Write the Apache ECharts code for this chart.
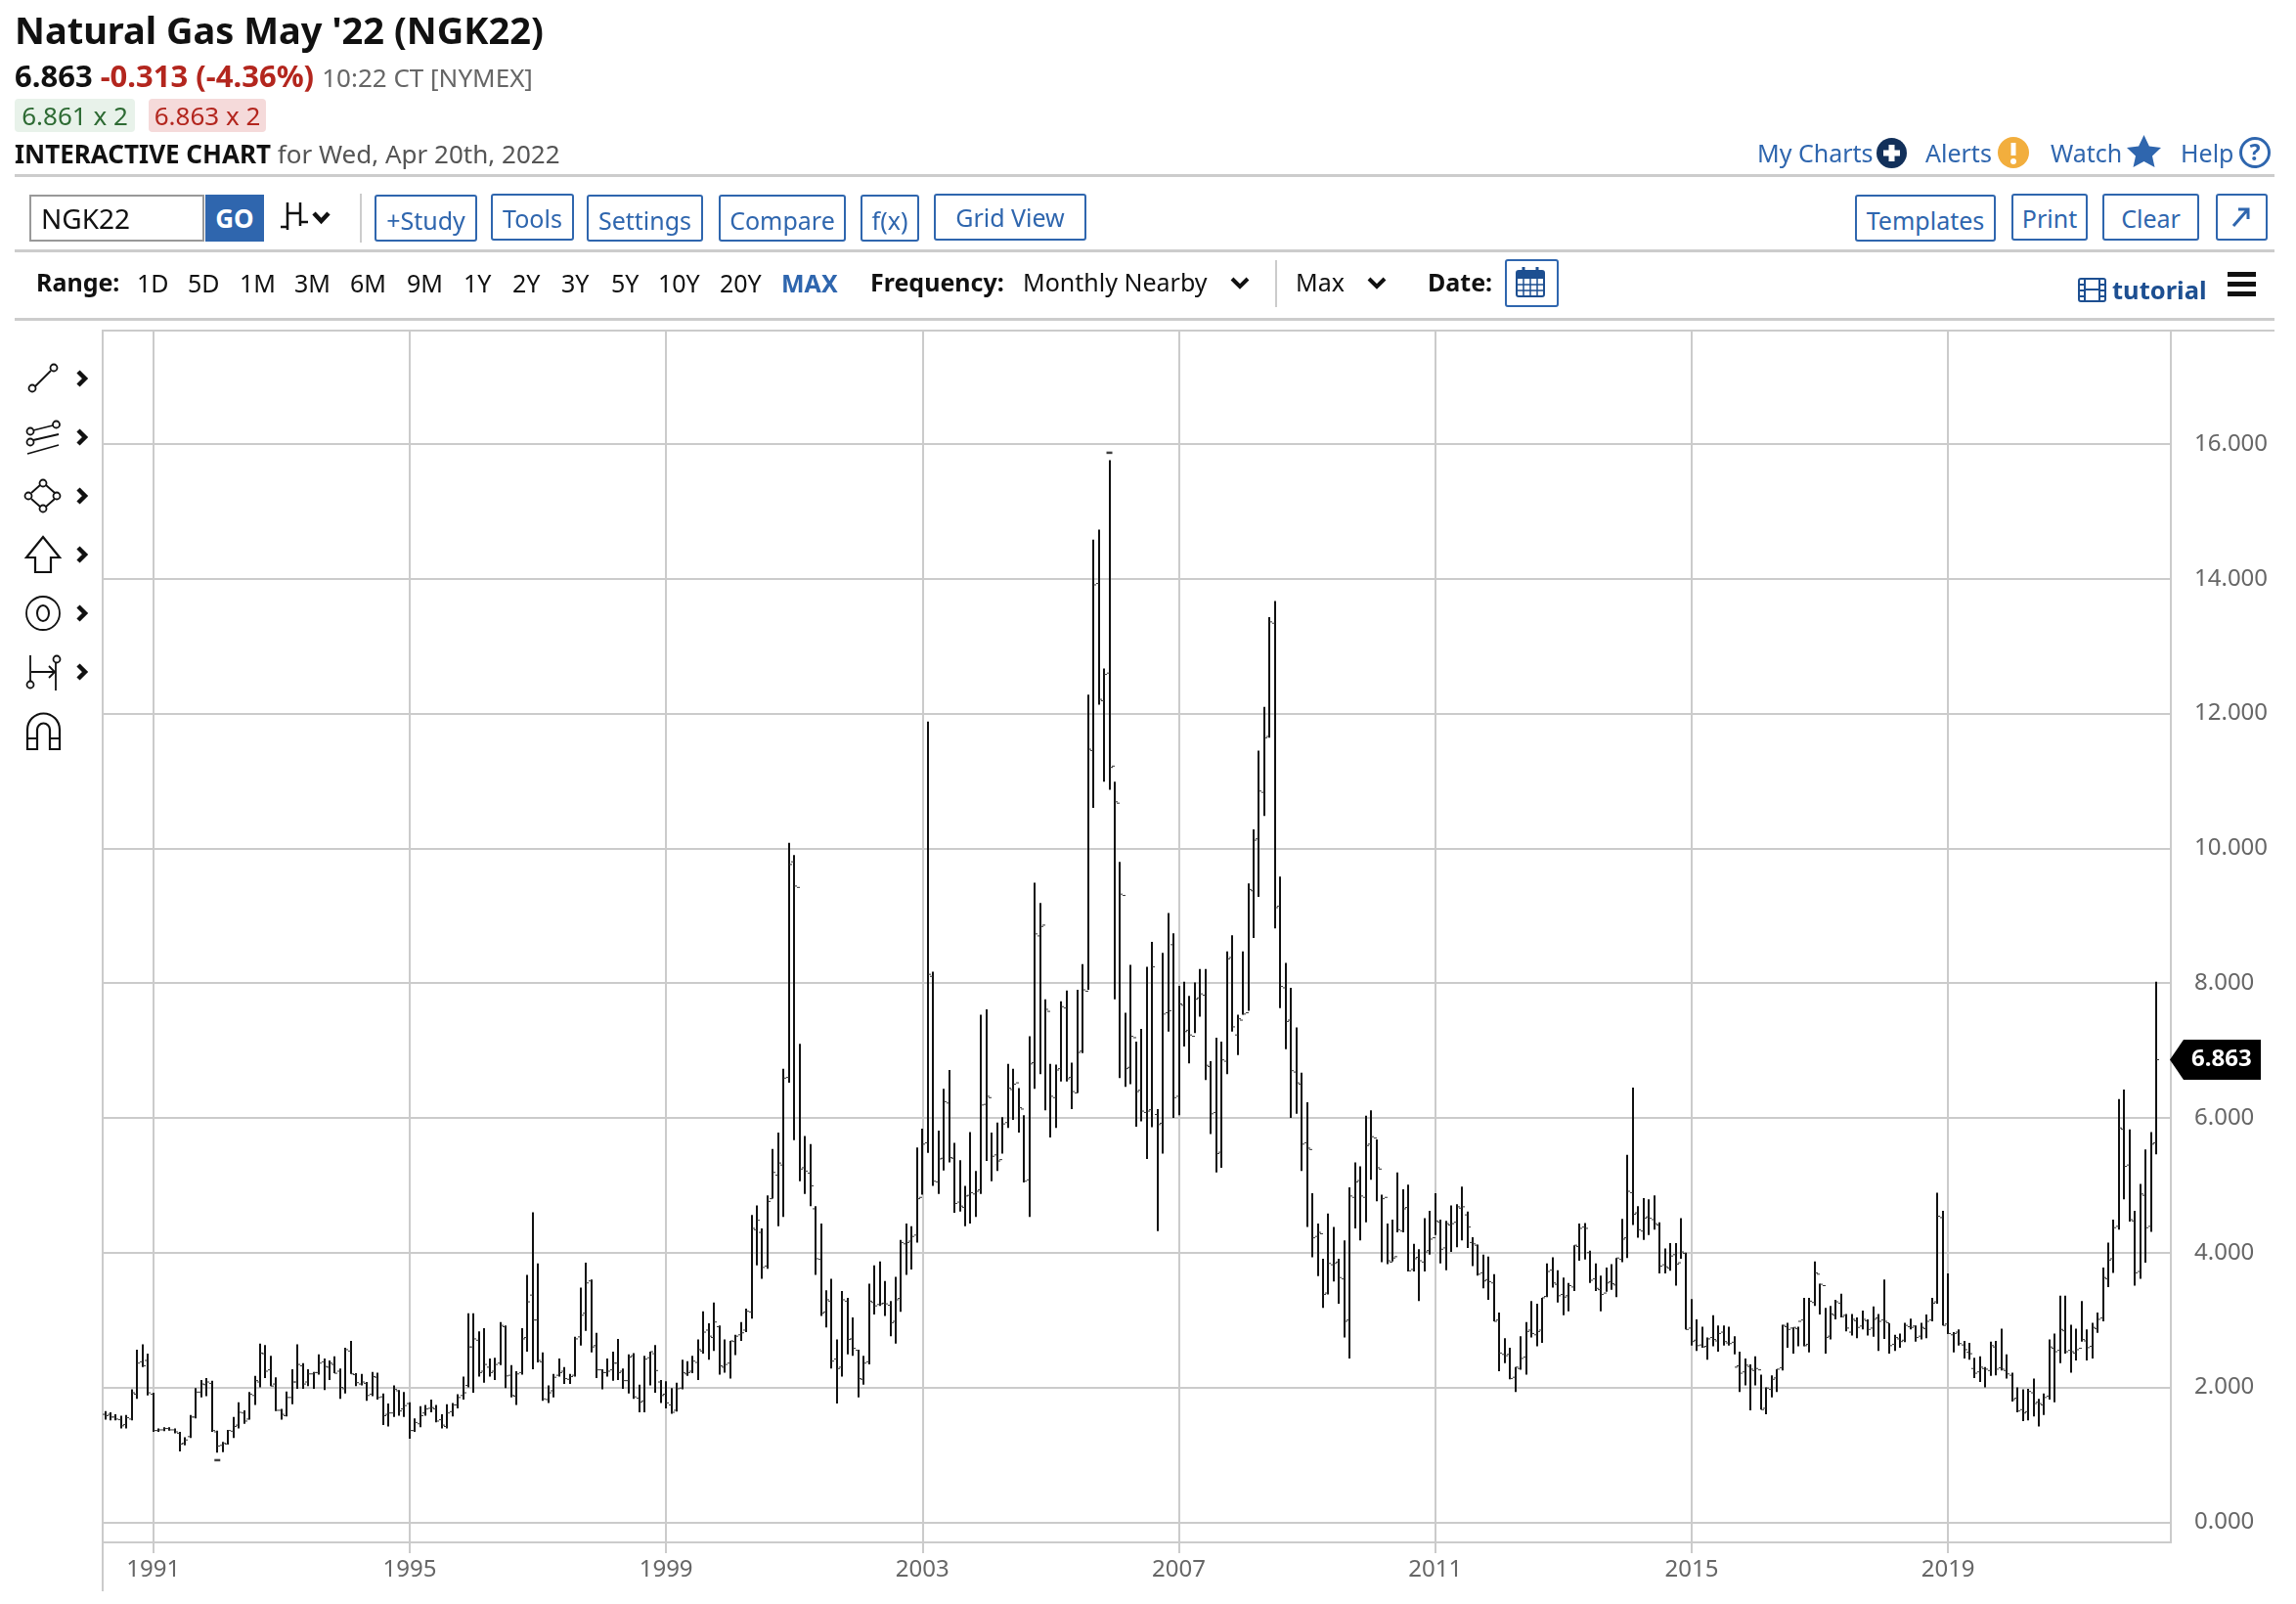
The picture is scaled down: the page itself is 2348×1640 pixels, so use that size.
<!DOCTYPE html>
<html>
<head>
<meta charset="UTF-8">
<title>Natural Gas May '22 (NGK22)</title>
<style>
    html, body { margin: 0; padding: 0; background: #fff; font-family: "Noto Sans", sans-serif; }
    #page { position: relative; width: 2348px; height: 1640px; overflow: hidden; }
    #chart { position: absolute; left: 0; top: 0; width: 2348px; height: 1640px; }
    .t { position: absolute; white-space: nowrap; font-size: 26px; line-height: 36px; height: 36px; color: #111; }
    .s { font-size: 25px; }
    .b { font-weight: 700; }
    .link { color: #2f66ae; }
    .rule { position: absolute; left: 15px; width: 2311px; height: 3px; background: #ccc; }
    .btn { position: absolute; top: 199px; height: 44px; line-height: 48px; border: 2px solid #2f66ae; border-radius: 3px;
           color: #2f66ae; font-size: 25px; text-align: center; background: #fff; }
    .pill { position: absolute; top: 101px; height: 34px; line-height: 34px; border-radius: 4px; font-size: 26px; text-align: center; }
    svg { position: absolute; overflow: visible; }
</style>
</head>
<body>
<div id="page">
    <div id="chart"></div>

    <!-- header -->
    <div class="t b" style="left:15px;top:8px;font-size:38px;line-height:44px;height:44px">Natural Gas May '22 (NGK22)</div>
    <div class="t b" style="left:15px;top:57px;font-size:31px;line-height:40px;height:40px">6.863 <span style="color:#b3261e">-0.313 (-4.36%)</span> <span style="font-weight:400;font-size:26px;color:#666">10:22 CT [NYMEX]</span></div>
    <div class="pill" style="left:15px;width:123px;background:#e8f2ea;color:#2e6b34">6.861 x 2</div>
    <div class="pill" style="left:152px;width:120px;background:#f5dada;color:#b3261e">6.863 x 2</div>
    <div class="t" style="left:15px;top:139px;color:#555"><span class="b" style="color:#111">INTERACTIVE CHART</span> for Wed, Apr 20th, 2022</div>

    <div class="t s link" style="left:1797px;top:138px">My Charts</div>
    <svg style="left:1919px;top:141px" width="31" height="31" viewBox="0 0 31 31"><circle cx="15.5" cy="15.5" r="15.5" fill="#12305a"/><path d="M15.5 7v17M7 15.5h17" stroke="#fff" stroke-width="6"/></svg>
    <div class="t s link" style="left:1969px;top:138px">Alerts</div>
    <svg style="left:2043px;top:140px" width="32" height="32" viewBox="0 0 32 32"><circle cx="16" cy="16" r="16" fill="#f2ae3d"/><path d="M16 6v13" stroke="#fff" stroke-width="5"/><circle cx="16" cy="25" r="3" fill="#fff"/></svg>
    <div class="t s link" style="left:2097px;top:138px">Watch</div>
    <svg style="left:2175px;top:138px" width="35" height="33" viewBox="0 0 35 33"><path d="M17.5 0l5.4 11.6 12.1 1.4-9 8.4 2.5 11.6-11-6-11 6 2.5-11.6-9-8.4 12.1-1.4z" fill="#2f66ae"/></svg>
    <div class="t s link" style="left:2230px;top:138px">Help</div>
    <svg style="left:2290px;top:140px" width="32" height="32" viewBox="0 0 32 32"><circle cx="16" cy="16" r="14.5" fill="#fff" stroke="#2f66ae" stroke-width="3"/><text x="16" y="24" font-size="23" font-weight="700" text-anchor="middle" fill="#2f66ae" font-family="Noto Sans">?</text></svg>
    <div class="rule" style="top:178px"></div>

    <!-- toolbar -->
    <div style="position:absolute;left:30px;top:199px;height:44px;border:2px solid #999;line-height:44px;font-size:28px;padding-left:10px;width:165px;color:#111">NGK22</div>
    <div class="b" style="position:absolute;left:210px;top:199px;width:60px;height:48px;line-height:48px;background:#2f66ae;color:#fff;text-align:center;font-size:26px">GO</div>
    <svg style="left:286px;top:205px" width="56" height="30" viewBox="0 0 56 30" fill="none" stroke="#111" stroke-width="2.5"><path d="M8 2v28M1 27h7M8 13h6M21 2v24M14 13h7M21 22h8"/><path d="M35 13l7.500 8 7.500-8" stroke-width="4.5"/></svg>
    <div style="position:absolute;left:368px;top:198px;width:2px;height:50px;background:#ccc"></div>
    <div class="btn" style="left:383px;width:101px">+Study</div>
    <div class="btn" style="left:502px;width:81px;top:198px;line-height:46px">Tools</div>
    <div class="btn" style="left:600px;width:115px">Settings</div>
    <div class="btn" style="left:735px;width:126px">Compare</div>
    <div class="btn" style="left:880px;width:56px">f(x)</div>
    <div class="btn" style="left:955px;width:152px;top:198px;line-height:44px">Grid View</div>
    <div class="btn" style="left:1897px;width:140px">Templates</div>
    <div class="btn" style="left:2057px;width:74px;top:198px;line-height:46px">Print</div>
    <div class="btn" style="left:2150px;width:95px;top:198px;line-height:46px">Clear</div>
    <div class="btn" style="left:2266px;width:49px;top:198px"></div>
    <svg style="left:2282px;top:212px" width="20" height="20" viewBox="0 0 20 20"><path d="M2 19L16 3M7 2h10v10" fill="none" stroke="#2f66ae" stroke-width="3"/></svg>
    <div class="rule" style="top:255px"></div>

    <!-- range row -->
    <div class="t s b" style="left:37px;top:270px">Range:</div>
    <div class="t s" style="left:140px;top:271px">1D</div>
    <div class="t s" style="left:192px;top:271px">5D</div>
    <div class="t s" style="left:245px;top:271px">1M</div>
    <div class="t s" style="left:301px;top:271px">3M</div>
    <div class="t s" style="left:358px;top:271px">6M</div>
    <div class="t s" style="left:416px;top:271px">9M</div>
    <div class="t s" style="left:474px;top:271px">1Y</div>
    <div class="t s" style="left:524px;top:271px">2Y</div>
    <div class="t s" style="left:574px;top:271px">3Y</div>
    <div class="t s" style="left:625px;top:271px">5Y</div>
    <div class="t s" style="left:673px;top:271px">10Y</div>
    <div class="t s" style="left:736px;top:271px">20Y</div>
    <div class="t s b link" style="left:799px;top:271px">MAX</div>
    <div class="t s b" style="left:890px;top:270px">Frequency:</div>
    <div class="t s" style="left:1046px;top:270px">Monthly Nearby</div>
    <svg style="left:1259px;top:284px" width="18" height="12" viewBox="0 0 18 12"><path d="M1 1l8 8 8-8" fill="none" stroke="#111" stroke-width="4"/></svg>
    <div style="position:absolute;left:1304px;top:266px;width:2px;height:48px;background:#ccc"></div>
    <div class="t s" style="left:1325px;top:270px">Max</div>
    <svg style="left:1399px;top:284px" width="18" height="12" viewBox="0 0 18 12"><path d="M1 1l8 8 8-8" fill="none" stroke="#111" stroke-width="4"/></svg>
    <div class="t s b" style="left:1460px;top:270px">Date:</div>
    <div class="btn" style="left:1539px;top:265px;width:51px;height:45px"></div>
    <svg style="left:1550px;top:272px" width="30" height="32" viewBox="0 0 30 32"><rect x="1" y="5" width="28" height="26" rx="2" fill="#fff" stroke="#1d4f91" stroke-width="2"/><rect x="1" y="5" width="28" height="8" fill="#1d4f91"/><path d="M8 1v8M22 1v8" stroke="#1d4f91" stroke-width="3"/><path d="M1 19h28M1 25h28M8 13v18M15 13v18M22 13v18" stroke="#1d4f91" stroke-width="1.5"/></svg>
    <svg style="left:2125px;top:284px" width="29" height="25" viewBox="0 0 29 25" fill="none" stroke="#1d4f91" stroke-width="2"><rect x="1" y="1" width="27" height="23" rx="2"/><path d="M7 1v23M22 1v23M7 12h15M1 7h6M1 13h6M1 19h6M22 7h6M22 13h6M22 19h6"/></svg>
    <div class="t b" style="left:2160px;top:278px;color:#1d4f91;font-size:25.5px">tutorial</div>
    <div style="position:absolute;left:2278px;top:278px;width:29px;height:5px;background:#111"></div>
    <div style="position:absolute;left:2278px;top:288px;width:29px;height:5px;background:#111"></div>
    <div style="position:absolute;left:2278px;top:298px;width:29px;height:5px;background:#111"></div>
    <div class="rule" style="top:325px"></div>

    <!-- drawing tools -->
    <svg style="left:0;top:340px" width="100" height="450" viewBox="0 0 100 450" fill="none" stroke="#111" stroke-width="1.8">
        <circle cx="33" cy="57" r="3.5"/><circle cx="55" cy="36" r="3.5"/><path d="M36 55l16-16"/>
        <circle cx="31" cy="101" r="3.5"/><circle cx="57.500" cy="94" r="3.500"/><circle cx="31" cy="112" r="3.5"/>
        <path d="M34 100l20-5M34 110l26-6M28 124l32-9"/>
        <circle cx="44" cy="154" r="3.5"/><circle cx="44" cy="180" r="3.5"/><circle cx="29" cy="167" r="3.5"/><circle cx="58" cy="167" r="3.5"/>
        <path d="M32 164l9-8M47 156l9 8M32 170l9 8M47 178l9-8"/>
        <path d="M44 209l17 21h-9v15h-16v-15h-9z" stroke-width="2.2"/>
        <circle cx="44" cy="287" r="17"/><ellipse cx="44" cy="287" rx="6" ry="8" stroke-width="2"/>
        <path d="M31 330v32M57 336v30M32 347h24M50 341l6 6-6 6"/><circle cx="31" cy="360" r="3.500" fill="#fff"/><circle cx="58" cy="334" r="3.500" fill="#fff"/>
        <path d="M28 426v-20a16 16 0 0 1 33 0v20h-10v-20a6 6 0 0 0-13 0v20zM28 415h10M51 415h10" stroke-width="2.2"/>
    </svg>
    <svg style="left:79px;top:379px" width="12" height="300" viewBox="0 0 12 300" fill="none" stroke="#111" stroke-width="4.500">
        <path d="M1 1l7 7-7 7M1 61l7 7-7 7M1 121l7 7-7 7M1 181l7 7-7 7M1 241l7 7-7 7M1 301l7 7-7 7"/>
    </svg>
</div>

<script src="https://cdn.jsdelivr.net/npm/echarts@6/dist/echarts.min.js"></script>
<script>
// monthly nearby bars, Apr 1990 to Apr 2022, one row per calendar year
var startYear = 1990.25;
var opens = [
    1.60,1.60,1.56,1.52,1.45,1.53,1.90,2.38,2.40,
    1.90,1.36,1.37,1.39,1.37,1.32,1.17,1.27,1.56,1.93,2.04,2.06,
    1.34,1.14,1.16,1.35,1.44,1.62,1.53,1.88,2.08,2.50,2.26,2.05,
    1.66,1.58,1.85,2.08,2.32,2.08,2.20,2.22,2.38,2.30,2.34,2.24,
    1.98,2.54,2.19,2.05,2.06,1.90,2.15,1.86,1.60,1.62,1.95,1.68,
    1.76,1.36,1.46,1.62,1.69,1.68,1.52,1.42,1.64,1.74,1.88,2.03,
    2.60,2.70,2.24,2.30,2.24,2.36,2.90,2.18,1.87,2.22,2.74,3.37,
    3.00,2.38,1.82,1.95,2.18,2.24,2.12,2.18,2.75,3.10,3.58,2.62,
    2.26,2.22,2.26,2.36,2.24,2.10,2.47,1.84,1.80,2.44,2.50,2.08,
    1.90,1.74,1.66,1.99,2.20,2.24,2.37,2.54,2.85,2.74,2.90,2.30,
    2.36,2.68,2.78,2.85,3.12,4.34,4.30,3.80,4.80,5.15,5.30,6.60,
    9.80,9.42,5.26,5.18,4.65,3.90,3.12,3.28,2.42,2.30,3.28,2.72,
    2.55,2.12,2.38,3.26,3.23,3.25,3.22,2.98,3.32,4.13,4.17,4.26,
    4.82,5.63,8.10,5.05,5.40,6.22,5.40,4.75,4.67,4.85,4.87,4.93,
    6.20,6.30,5.45,5.38,5.93,6.42,6.52,6.13,5.08,6.82,8.70,8.86,
    7.58,6.30,6.73,7.63,6.60,6.37,6.99,7.88,11.45,13.93,12.19,12.60,
    11.22,10.67,9.30,6.75,7.19,6.41,6.08,6.12,6.05,5.92,7.56,8.57,
    6.32,7.67,7.30,7.21,7.78,7.82,6.76,6.08,5.49,6.84,8.38,7.23,
    7.45,7.56,9.37,10.14,10.83,11.66,13.34,9.14,7.93,7.45,6.68,6.50,
    5.63,5.53,4.24,4.28,3.40,3.82,3.86,3.61,3.00,4.82,5.07,4.82,
    5.61,5.70,5.24,4.82,3.86,3.94,4.32,4.67,3.75,3.93,3.86,4.03,
    4.22,4.45,4.07,4.41,4.45,4.66,4.56,4.15,4.11,3.70,3.60,3.55,
    3.00,2.49,2.49,2.15,2.28,2.45,2.85,2.78,2.85,3.35,3.74,3.53,
    3.38,3.36,3.49,4.09,4.38,4.00,3.61,3.45,3.40,3.57,3.52,3.90,
    4.22,4.89,4.59,4.32,4.53,4.49,4.41,3.82,3.77,3.97,3.85,3.99,
    2.88,2.70,2.63,2.61,2.74,2.69,2.82,2.66,2.67,2.32,2.23,2.31,
    2.25,2.26,1.69,1.97,2.14,2.29,2.90,2.88,2.87,3.00,2.64,3.26,
    3.68,3.51,2.76,3.07,3.25,3.07,2.82,2.99,2.91,2.99,2.88,3.03,
    3.00,2.96,2.64,2.72,2.70,2.90,2.91,2.76,2.87,3.00,3.27,4.52,
    2.94,2.78,2.82,2.63,2.52,2.28,2.23,2.28,2.25,2.60,2.29,2.25,
    2.18,1.84,1.67,1.64,1.92,1.78,1.74,1.87,2.58,2.55,2.84,2.55,
    2.51,2.58,2.69,2.61,2.87,3.03,3.61,3.91,4.39,5.83,5.30,4.47,
    3.72,4.85,4.39,5.63
];
var highs = [
    1.65,1.63,1.60,1.58,1.59,1.97,2.56,2.64,2.50,
    1.92,1.39,1.41,1.41,1.39,1.34,1.26,1.59,1.99,2.11,2.14,2.10,
    1.36,1.19,1.37,1.56,1.78,1.66,1.93,2.17,2.65,2.63,2.47,2.15,
    1.68,1.94,2.27,2.64,2.36,2.27,2.23,2.49,2.43,2.40,2.46,2.28,
    2.59,2.69,2.21,2.20,2.08,2.23,2.22,1.91,1.76,2.03,1.96,1.93,
    1.78,1.54,1.72,1.74,1.82,1.74,1.60,1.75,1.77,1.90,2.16,3.10,
    3.10,2.83,2.88,2.43,2.44,2.97,2.92,2.33,2.24,2.88,3.67,4.60,
    3.84,2.52,2.03,2.20,2.43,2.30,2.20,2.75,3.48,3.85,3.60,2.81,
    2.27,2.43,2.53,2.72,2.28,2.49,2.51,2.04,2.47,2.53,2.63,2.11,
    2.09,1.99,2.07,2.41,2.39,2.47,2.71,3.13,2.95,3.26,2.92,2.71,
    2.69,2.78,2.97,3.17,4.56,4.70,4.36,4.85,5.54,5.78,6.73,10.08,
    9.90,7.10,5.73,5.61,4.69,4.43,3.44,3.61,2.71,3.43,3.33,3.04,
    2.56,2.47,3.54,3.81,3.87,3.58,3.28,3.64,4.19,4.43,4.39,5.56,
    5.84,11.88,8.17,5.81,6.43,6.71,5.63,5.37,4.99,5.79,5.21,7.53,
    7.61,5.78,5.93,6.01,6.80,6.73,6.44,6.04,7.21,9.49,9.19,7.76,
    6.80,6.79,7.73,7.89,6.82,7.90,8.28,12.28,14.58,14.73,12.67,15.76,
    10.99,9.80,7.56,8.27,7.13,7.32,8.24,8.61,6.13,8.45,9.04,8.74,
    7.96,8.02,7.81,8.01,8.21,8.21,6.84,7.19,7.13,8.47,8.71,7.53,
    8.47,9.48,10.28,11.45,12.10,13.43,13.67,9.58,8.30,7.93,7.34,6.67,
    6.23,4.88,4.43,3.91,4.58,4.38,3.91,4.18,4.97,5.34,5.28,6.03,
    6.11,5.68,4.86,4.43,4.49,5.19,4.94,5.01,4.13,4.05,4.51,4.62,
    4.88,4.49,4.47,4.70,4.72,4.98,4.61,4.23,4.12,3.97,3.94,3.68,
    3.11,2.73,2.59,2.30,2.76,2.97,3.28,3.24,3.33,3.84,3.93,3.74,
    3.63,3.55,4.11,4.43,4.44,4.03,3.84,3.66,3.78,3.83,3.92,4.50,
    5.45,6.45,4.69,4.81,4.79,4.85,4.45,4.06,4.14,4.14,4.51,4.00,
    3.31,3.01,2.90,2.74,3.07,2.92,2.92,2.90,2.76,2.53,2.43,2.34,
    2.46,2.19,2.00,2.18,2.27,2.93,2.96,2.89,2.90,3.33,3.33,3.87,
    3.54,3.18,3.21,3.30,3.39,3.09,3.09,3.04,3.14,3.01,3.20,3.09,
    3.60,2.95,2.78,2.80,2.96,3.02,2.92,2.96,3.08,3.33,4.89,4.62,
    3.69,2.82,2.86,2.69,2.66,2.44,2.46,2.30,2.68,2.69,2.87,2.49,
    2.22,2.00,1.97,1.98,2.13,1.83,1.91,2.71,2.80,3.36,3.36,2.93,
    2.87,3.28,2.86,2.96,3.11,3.78,4.15,4.49,6.28,6.42,5.83,4.62,
    5.02,5.53,5.79,8.02
];
var lows = [
    1.52,1.51,1.51,1.39,1.39,1.51,1.83,2.30,1.88,
    1.34,1.34,1.35,1.36,1.32,1.05,1.14,1.25,1.54,1.85,1.87,1.34,
    1.03,1.04,1.15,1.25,1.39,1.46,1.52,1.74,2.00,2.14,2.02,1.65,
    1.52,1.57,1.75,1.98,1.98,2.02,1.98,2.19,1.96,2.11,2.21,1.83,
    1.91,2.20,2.02,2.03,1.80,1.87,1.82,1.44,1.42,1.56,1.58,1.56,
    1.24,1.34,1.41,1.58,1.63,1.48,1.39,1.39,1.57,1.69,1.82,2.00,
    1.92,2.16,2.07,2.16,2.11,2.33,1.99,1.85,1.74,2.19,2.53,2.27,
    2.37,1.80,1.77,1.85,2.16,2.05,2.05,2.16,2.62,2.84,2.52,2.14,
    1.97,2.16,2.10,2.11,1.98,1.91,1.83,1.63,1.63,2.03,1.92,1.77,
    1.69,1.61,1.64,1.97,2.17,2.21,2.11,2.50,2.41,2.54,2.19,2.22,
    2.13,2.48,2.69,2.82,3.02,3.81,3.61,3.76,4.80,4.39,4.53,6.52,
    5.67,5.06,4.87,4.69,3.67,3.06,2.89,2.28,1.76,2.16,2.49,2.47,
    1.85,2.04,2.34,3.08,3.21,3.06,2.76,2.65,3.12,3.67,3.75,4.15,
    4.86,5.48,4.99,4.87,5.22,5.34,4.59,4.61,4.39,4.43,4.53,4.87,
    5.36,5.06,5.21,5.47,5.85,5.97,5.78,5.04,4.53,6.43,6.65,6.11,
    5.71,5.85,6.54,6.54,6.13,6.37,6.96,7.90,10.60,12.13,10.99,10.87,
    7.76,6.59,6.46,6.50,5.87,5.95,5.39,5.86,4.32,5.47,7.28,6.00,
    6.04,7.06,6.81,7.26,7.50,6.56,5.76,5.19,5.26,6.65,7.28,6.93,
    7.53,7.59,8.67,9.28,10.48,11.64,8.81,7.63,7.02,6.00,6.06,5.21,
    4.38,3.93,3.65,3.18,3.38,3.57,3.24,2.74,2.43,4.36,4.18,4.45,
    5.08,4.76,3.86,3.83,3.87,4.30,4.30,3.72,3.72,3.28,3.72,3.97,
    4.26,3.84,3.74,4.01,4.08,4.18,4.07,3.80,3.66,3.47,3.30,2.98,
    2.24,2.36,2.12,1.93,2.26,2.19,2.74,2.61,2.66,3.34,3.48,3.26,
    3.07,3.13,3.43,3.88,3.90,3.55,3.43,3.13,3.42,3.45,3.34,3.86,
    3.92,4.41,4.22,4.19,4.26,4.34,3.69,3.69,3.73,3.51,3.91,2.86,
    2.62,2.54,2.59,2.41,2.61,2.53,2.62,2.62,2.49,1.93,2.03,1.66,
    2.03,1.67,1.60,1.85,1.93,2.25,2.59,2.50,2.61,2.61,2.52,3.21,
    3.08,2.50,2.71,3.01,3.04,2.83,2.77,2.73,2.86,2.77,2.75,2.54,
    2.72,2.50,2.54,2.59,2.67,2.86,2.68,2.71,2.73,2.98,3.24,2.92,
    2.79,2.52,2.62,2.43,2.41,2.14,2.08,2.00,2.17,2.18,2.25,2.13,
    1.79,1.63,1.50,1.51,1.57,1.42,1.59,1.82,1.78,2.36,2.50,2.22,
    2.40,2.68,2.40,2.43,2.81,2.98,3.49,3.70,4.34,4.79,4.46,3.51,
    3.61,3.85,4.31,5.46
];
var closes = [
    1.58,1.56,1.53,1.43,1.55,1.92,2.36,2.32,1.92,
    1.36,1.37,1.39,1.37,1.34,1.16,1.22,1.56,1.93,2.05,2.08,1.36,
    1.13,1.17,1.36,1.42,1.63,1.50,1.90,2.10,2.51,2.24,2.02,1.66,
    1.60,1.85,2.08,2.34,2.05,2.20,2.22,2.36,2.31,2.36,2.21,2.00,
    2.56,2.20,2.07,2.08,1.88,2.16,1.85,1.58,1.62,1.97,1.65,1.73,
    1.36,1.48,1.58,1.68,1.70,1.50,1.44,1.62,1.74,1.85,1.92,2.60,
    2.72,2.22,2.34,2.22,2.34,2.92,2.17,1.88,2.20,2.72,3.27,3.00,
    2.40,1.83,1.92,2.15,2.22,2.13,2.16,2.72,3.07,3.55,2.60,2.26,
    2.22,2.24,2.36,2.22,2.10,2.45,1.86,1.78,2.42,2.53,2.25,1.88,
    1.77,1.63,1.98,2.22,2.22,2.39,2.56,2.82,2.76,2.97,2.32,2.34,
    2.69,2.76,2.81,3.13,4.36,4.48,3.78,4.76,5.19,5.33,6.59,9.76,
    9.44,5.24,5.21,4.99,3.91,3.10,3.30,2.39,2.28,3.30,2.71,2.58,
    2.13,2.36,3.28,3.21,3.24,3.24,2.96,3.30,4.15,4.15,4.24,4.80,
    5.61,8.13,5.06,5.39,6.24,5.41,4.73,4.69,4.84,4.89,4.91,6.19,
    6.32,5.43,5.36,5.91,6.44,6.50,6.15,5.06,6.80,8.73,8.84,7.61,
    6.32,6.71,7.65,6.58,6.39,6.97,7.90,11.47,13.91,12.21,12.58,11.20,
    10.69,9.32,6.73,7.21,6.39,6.10,6.10,8.24,5.90,7.54,7.59,6.30,
    7.69,7.28,7.23,7.76,7.84,6.78,6.06,5.47,6.86,8.36,7.35,7.47,
    7.54,9.39,10.12,10.85,11.64,13.36,9.12,7.95,7.43,6.70,6.52,5.61,
    5.55,4.22,4.30,3.38,3.84,3.84,3.63,2.98,4.84,5.05,4.84,5.59,
    5.72,5.26,4.80,3.88,3.92,4.34,4.65,3.73,3.91,3.88,4.01,4.20,
    4.47,4.05,4.43,4.43,4.68,4.68,4.38,4.13,3.68,3.58,3.57,2.98,
    2.51,2.47,2.13,2.30,2.43,2.83,2.80,2.83,3.33,3.72,3.55,3.36,
    3.34,3.51,4.11,4.36,4.36,3.59,3.47,3.38,3.55,3.54,3.92,4.20,
    4.91,4.57,4.34,4.51,4.51,4.43,3.80,3.79,3.95,3.83,4.01,2.86,
    2.68,2.62,2.60,2.72,2.71,2.80,2.68,2.65,2.30,2.21,2.33,2.27,
    2.28,1.67,1.99,2.12,2.27,2.92,2.86,2.89,2.98,2.62,3.28,3.70,
    3.53,2.74,3.09,3.27,3.05,2.88,3.01,2.89,3.01,2.86,3.01,2.98,
    2.98,2.62,2.74,2.68,2.92,2.89,2.74,2.89,2.98,3.25,4.54,2.92,
    2.80,2.80,2.65,2.56,2.50,2.21,2.30,2.27,2.62,2.27,2.27,2.20,
    1.82,1.65,1.62,1.94,1.76,1.76,1.85,2.60,2.53,2.86,2.53,2.53,
    2.56,2.71,2.59,2.89,3.01,3.63,3.89,4.37,5.85,5.28,4.49,3.70,
    4.87,4.37,5.61,6.863
];
// stray prints that sit outside their bar in the source chart
var strayYears = [1992.0, 2005.9167];
var strayPrices = [0.92, 15.87];

var lastPrice = 6.863;
var yearTicks = [1991, 1995, 1999, 2003, 2007, 2011, 2015, 2019];
var priceTicks = [0, 2, 4, 6, 8, 10, 12, 14, 16];

var bars = [];
for (var i = 0; i < closes.length; i++) {
    bars.push([startYear + i / 12, opens[i], highs[i], lows[i], closes[i]]);
}
var strays = strayYears.map(function (y, i) { return [y, strayPrices[i]]; });

var gridColor = '#cbcbcb';
var xMin = 1990.211, xMax = 2022.476;

function renderBar(params, api) {
    var x = api.value(0);
    var open = api.coord([x, api.value(1)]);
    var high = api.coord([x, api.value(2)]);
    var low = api.coord([x, api.value(3)]);
    var close = api.coord([x, api.value(4)]);
    var px = Math.round(high[0]);
    var style = { stroke: '#111', lineWidth: 2, fill: null };
    var tick = { stroke: '#333', lineWidth: 1, fill: null };
    return {
        type: 'group',
        children: [
            { type: 'line', shape: { x1: px, y1: high[1], x2: px, y2: low[1] }, style: style },
            { type: 'line', shape: { x1: px - 3, y1: open[1], x2: px, y2: open[1] }, style: tick },
            { type: 'line', shape: { x1: px, y1: close[1], x2: px + 3, y2: close[1] }, style: tick }
        ]
    };
}

function renderTag(params, api) {
    var p = api.coord([api.value(0), api.value(1)]);
    var x = p[0], y = p[1];
    return {
        type: 'group',
        children: [
            { type: 'polygon', shape: { points: [[x - 1, y], [x + 13, y - 20.5], [x + 92, y - 20.5], [x + 92, y + 20.5], [x + 13, y + 20.5]] }, style: { fill: '#000' } },
            { type: 'text', x: x + 21, y: y, style: { text: lastPrice.toFixed(3), fill: '#fff', font: '700 24px "Noto Sans"', verticalAlign: 'middle', textAlign: 'left' } }
        ]
    };
}

var chart = echarts.init(document.getElementById('chart'), null, { renderer: 'canvas' });
chart.setOption({
    animation: false,
    textStyle: { fontFamily: 'Noto Sans' },
    grid: { left: 105, right: 128, top: 338, bottom: 63 },
    xAxis: {
        type: 'value', min: xMin, max: xMax,
        axisLine: { show: true, onZero: false, lineStyle: { color: gridColor, width: 2 } },
        axisTick: { show: true, length: 11, customValues: yearTicks, lineStyle: { color: gridColor, width: 2 } },
        axisLabel: { customValues: yearTicks, formatter: function (v) { return String(v); }, color: '#666', fontSize: 24, margin: 16, fontFamily: 'Noto Sans' },
        splitLine: { show: true, customValues: yearTicks, lineStyle: { color: gridColor, width: 2 } }
    },
    yAxis: {
        type: 'value', position: 'right', min: -0.3, max: 17.683,
        axisLine: { show: true, onZero: false, lineStyle: { color: gridColor, width: 2 } },
        axisTick: { show: false, customValues: priceTicks },
        axisLabel: { customValues: priceTicks, formatter: function (v) { return v.toFixed(3); }, color: '#666', fontSize: 24, margin: 24, fontFamily: 'Noto Sans' },
        splitLine: { show: true, customValues: priceTicks, lineStyle: { color: gridColor, width: 2 } }
    },
    graphic: [
        { type: 'rect', left: 104, top: 337, shape: { width: 2, height: 1290 }, style: { fill: gridColor } },
        { type: 'rect', left: 104, top: 337, shape: { width: 2222, height: 2 }, style: { fill: gridColor } }
    ],
    series: [
        { type: 'custom', name: 'NGK22', data: bars, renderItem: renderBar, encode: { x: 0, y: [1, 2, 3, 4] }, silent: true },
        { type: 'scatter', name: 'stray', data: strays, symbol: 'rect', symbolSize: [6, 2.5], itemStyle: { color: '#111' }, silent: true },
        { type: 'custom', name: 'last', data: [[xMax, lastPrice]], renderItem: renderTag, encode: { x: 0, y: 1 }, silent: true, clip: false }
    ]
});
window.addEventListener('resize', chart.resize);
</script>
</body>
</html>
